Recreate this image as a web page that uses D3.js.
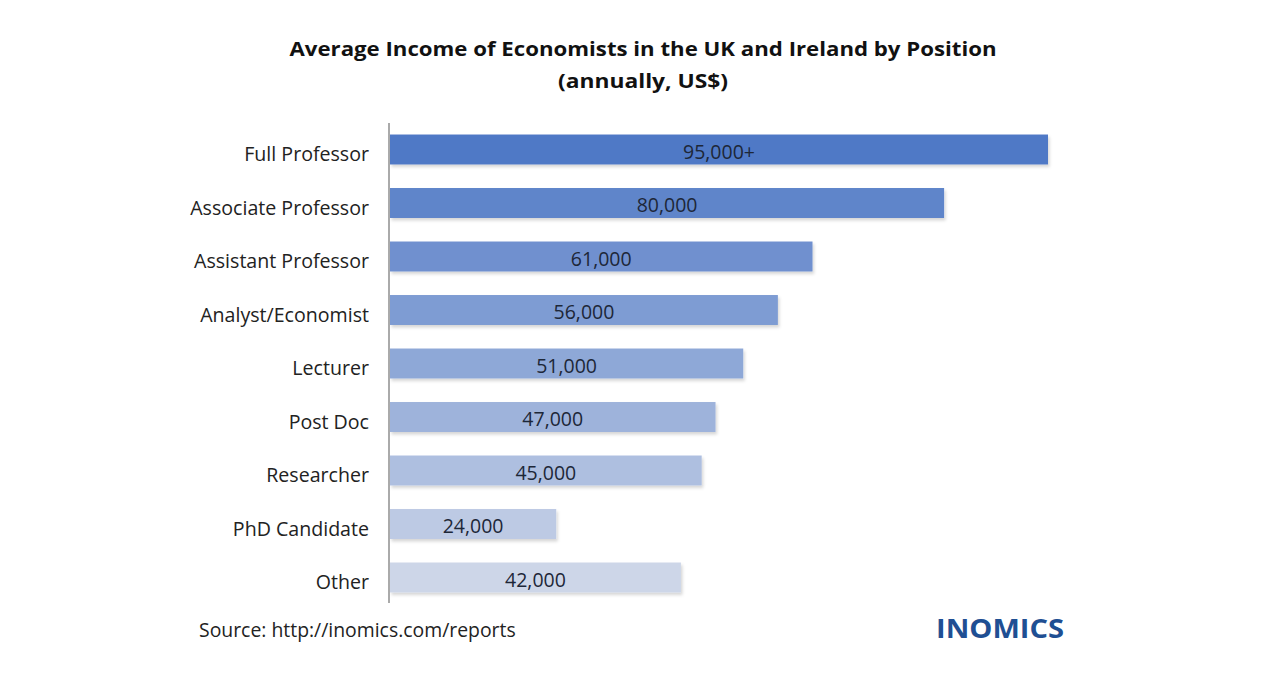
<!DOCTYPE html>
<html>
<head>
<meta charset="utf-8">
<script src="https://cdn.jsdelivr.net/npm/d3@7"></script>
<style>
  body { margin: 0; background: #fff; }
  svg { display: block; }
</style>
</head>
<body>
<script>
// dati
var positions = ["Full Professor", "Associate Professor", "Assistant Professor", "Analyst/Economist",
    "Lecturer", "Post Doc", "Researcher", "PhD Candidate", "Other"];
var incomes = [95000, 80000, 61000, 56000, 51000, 47000, 45000, 24000, 42000];
var valueLabels = ["95,000+", "80,000", "61,000", "56,000", "51,000", "47,000", "45,000", "24,000", "42,000"];

var titleLines = ["Average Income of Economists in the UK and Ireland by Position", "(annually, US$)"];
var sourceText = "Source: http://inomics.com/reports";
var brandText = "INOMICS";

var W = 1288, H = 675;
var font = "'Open Sans', Lato, sans-serif";

var svg = d3.select("body").append("svg")
    .attr("width", W)
    .attr("height", H);

// ombra leggera sotto le barre
var defs = svg.append("defs");
var f = defs.append("filter").attr("id", "shadow")
    .attr("x", "-5%").attr("y", "-20%").attr("width", "110%").attr("height", "160%");
f.append("feDropShadow")
    .attr("dx", 1.5).attr("dy", 2.5)
    .attr("stdDeviation", 1.5)
    .attr("flood-color", "#000")
    .attr("flood-opacity", 0.16);

var data = positions.map(function (p, i) {
    return { position: p, income: incomes[i], label: valueLabels[i] };
});

var x = d3.scaleLinear()
    .domain([0, 95000])
    .range([390, 1048]);

var y = d3.scaleBand()
    .domain(positions)
    .range([122.75, 604.25])
    .paddingInner(0.44)
    .paddingOuter(0.22);

// colore dal blu scuro al celeste chiaro
var color = d3.scaleLinear()
    .domain([0, positions.length - 1])
    .range(["#4f79c6", "#cdd6e8"]);

// titolo
svg.append("g").selectAll("text")
    .data(titleLines)
    .enter()
    .append("text")
    .attr("x", 643)
    .attr("y", function (d, i) { return 56 + i * 32; })
    .attr("text-anchor", "middle")
    .attr("font-family", font)
    .attr("font-weight", "bold")
    .attr("font-size", 20)
    .attr("fill", "#111")
    .attr("textLength", function (d, i) { return i == 0 ? 707 : 170; })
    .attr("lengthAdjust", "spacingAndGlyphs")
    .text(function (d) { return d; });

// barre
var bars = svg.append("g").selectAll("g")
    .data(data)
    .enter()
    .append("g");

bars.append("rect")
    .attr("x", x(0))
    .attr("y", function (d) { return y(d.position); })
    .attr("width", function (d) { return x(d.income) - x(0); })
    .attr("height", y.bandwidth())
    .attr("fill", function (d, i) { return color(i); })
    .attr("filter", "url(#shadow)");

bars.append("text")
    .attr("x", function (d) { return (x(0) + x(d.income)) / 2; })
    .attr("y", function (d) { return y(d.position) + y.bandwidth() / 2 + 9; })
    .attr("text-anchor", "middle")
    .attr("font-family", font)
    .attr("font-size", 19.5)
    .attr("fill", "#1d2738")
    .text(function (d) { return d.label; });

// asse y
var yAxis = svg.append("g")
    .attr("transform", "translate(" + (x(0) - 1) + ",0)")
    .call(d3.axisLeft(y).tickSize(0).tickPadding(20));

yAxis.select(".domain")
    .attr("stroke", "#aaa")
    .attr("stroke-width", 2)
    .attr("d", "M0,123V603");

yAxis.selectAll("text")
    .attr("dy", "0.6em")
    .attr("font-family", font)
    .attr("font-size", 19.6)
    .attr("fill", "#222");

// fonte e marchio
svg.append("text")
    .attr("x", 199)
    .attr("y", 637)
    .attr("font-family", font)
    .attr("font-size", 19.4)
    .attr("fill", "#222")
    .text(sourceText);

svg.append("text")
    .attr("x", 1064)
    .attr("y", 638)
    .attr("text-anchor", "end")
    .attr("font-family", font)
    .attr("font-weight", "bold")
    .attr("font-size", 26)
    .attr("fill", "#1f4f93")
    .attr("textLength", 128)
    .attr("lengthAdjust", "spacingAndGlyphs")
    .text(brandText);
</script>
</body>
</html>
